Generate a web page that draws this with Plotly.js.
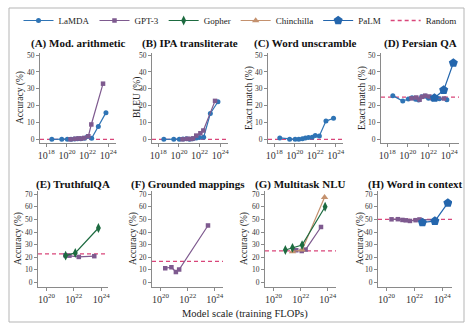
<!DOCTYPE html>
<html><head><meta charset="utf-8">
<script src="https://cdn.plot.ly/plotly-3.0.1.min.js"></script>
<style>html,body{margin:0;padding:0;background:#fff}</style>
</head><body><div id="chart" style="width:474px;height:332px"></div>
<script>
// ---------- data ----------
const panelTitles = ['(A) Mod. arithmetic','(B) IPA transliterate','(C) Word unscramble','(D) Persian QA',
                     '(E) TruthfulQA','(F) Grounded mappings','(G) Multitask NLU','(H) Word in context'];
const yTitles = ['Accuracy (%)','BLEU (%)','Exact match (%)','Exact match (%)',
                 'Accuracy (%)','Accuracy (%)','Accuracy (%)','Accuracy (%)'];
const xTitle = 'Model scale (training FLOPs)';
const randomVals = [0, 0, 0, 25, 22.6, 16.7, 25, 50];

// training FLOPs per model size
const lamdaFlops = [3.5e18, 3.2e19, 1.1e20, 2.5e20, 5.6e20, 1.1e21, 2.2e21, 5.0e21, 1.0e22, 2.5e22, 1.1e23, 6.0e23];
const gpt3Flops = [2.25e20, 6.41e20, 1.37e21, 2.38e21, 4.77e21, 1.20e22, 2.31e22, 3.14e23];
const gopherFlops = [7.51e20, 2.52e21, 1.28e22, 6.31e23];
const chinchillaFlops = [2.52e21, 1.28e22, 5.76e23];
const palmFlops = [3.74e22, 2.95e23, 2.53e24];
const truthfulGpt3Flops = [2.38e21, 4.77e21, 2.31e22, 3.14e23];
const truthfulGopherFlops = [2.52e21, 1.28e22, 6.31e23];
const groundedGpt3Flops = [2.25e20, 6.41e20, 1.37e21, 2.38e21, 3.14e23];
const mmluGpt3Flops = [4.77e21, 1.20e22, 2.31e22, 3.14e23];

// (A) Mod. arithmetic
const modArithLamda = [0, 0, 0, 0, 0.2, 0.3, 0.3, 0.6, 1.6, 0.6, 7.6, 15.8];
const modArithGpt3  = [0, 0.3, 0.5, 0.4, 0.8, 1.8, 8.8, 33];
// (B) IPA transliterate
const ipaLamda = [0, 0, 0, 0.2, 0.3, 0, 0.3, 0.8, 1.0, 1.2, 15.3, 22.3];
const ipaGpt3  = [0, 0.3, 0.2, 0.5, 2.2, 3.6, 5.2, 22.8];
// (C) Word unscramble
const unscrambleLamda = [0.8, 0, 0, 0, 0.3, 0.8, 1.0, 1.2, 2.3, 2.0, 10.8, 12.5];
// (D) Persian QA
const persianLamda = [25.9, 22.7, 23.9, 24.7, 23.7, 23.3, 25.3, 25.6, 24.3, 24.1, 24.0, 23.5];
const persianGpt3  = [24.3, 24.8, 23.5, 25.2, 25.9, 25.4, 24.5, 24.2];
const persianPalm  = [24.5, 29.2, 45.3];
// (E) TruthfulQA
const truthfulGpt3   = [21.5, 21.2, 20.2, 20.8];
const truthfulGopher = [21.2, 23.4, 43.2];
// (F) Grounded mappings
const groundedGpt3 = [11.2, 12.0, 8.2, 10.2, 45.2];
// (G) Multitask NLU
const mmluGpt3       = [25.5, 24.9, 26.0, 44.0];
const mmluGopher     = [25.7, 27.4, 29.6, 60.1];
const mmluChinchilla = [24.5, 25.8, 67.6];
// (H) Word in context
const wicGpt3 = [50.1, 50.2, 49.6, 49.3, 48.8, 49.4, 50.0, 49.4];
const wicPalm = [47.6, 48.7, 63.1];

// ---------- styles ----------
const W = 474, H = 332;
const SERIF = 'Liberation Serif';
const models = {
  LaMDA:      {color:'#2f74b5', symbol:'circle',       size:5,   rank:1},
  'GPT-3':    {color:'#7e5a8f', symbol:'square',       size:4.5, rank:2},
  Gopher:     {color:'#1d6b40', symbol:'diamond-tall', size:7,   rank:3},
  Chinchilla: {color:'#c4916e', symbol:'triangle-up',  size:6.5, rank:4},
  PaLM:       {color:'#2466ad', symbol:'pentagon',     size:9.5, rank:5}
};
const randomColor = '#d9467a';

// pixel boxes of plot areas [x0,x1,y0,y1]
const boxes = [[40,116,53,143],[152,228,53,143],[268,343,53,143],[381,459,53,143],
               [38,108,191,287],[152,223,191,287],[265,336,191,287],[378,452,191,287]];
const xRanges = [[17.4,24.75],[17.4,24.75],[17.4,24.7],[17.4,24.95],
                 [19.38,24.5],[19.38,24.6],[19.38,24.6],[19.38,24.7]];
const yRangeTop = [-2.2, 51.2], yRangeBot = [-3.7, 72.6];

const series = [
  [0,'LaMDA',lamdaFlops,modArithLamda],[0,'GPT-3',gpt3Flops,modArithGpt3],
  [1,'LaMDA',lamdaFlops,ipaLamda],[1,'GPT-3',gpt3Flops,ipaGpt3],
  [2,'LaMDA',lamdaFlops,unscrambleLamda],
  [3,'LaMDA',lamdaFlops,persianLamda],[3,'GPT-3',gpt3Flops,persianGpt3],[3,'PaLM',palmFlops,persianPalm],
  [4,'GPT-3',truthfulGpt3Flops,truthfulGpt3],[4,'Gopher',truthfulGopherFlops,truthfulGopher],
  [5,'GPT-3',groundedGpt3Flops,groundedGpt3],
  [6,'GPT-3',mmluGpt3Flops,mmluGpt3],[6,'Chinchilla',chinchillaFlops,mmluChinchilla],[6,'Gopher',gopherFlops,mmluGopher],
  [7,'GPT-3',gpt3Flops,wicGpt3],[7,'PaLM',palmFlops,wicPalm]
];

const traces = [];
const seen = {};
// random baselines first (under the data)
randomVals.forEach((rv,i) => {
  const s = i===0 ? '' : String(i+1);
  const xr = xRanges[i];
  traces.push({type:'scatter', mode:'lines', name:'Random', legendrank:6,
    x:[Math.pow(10,xr[0]), Math.pow(10,xr[1])], y:[rv,rv],
    xaxis:'x'+s, yaxis:'y'+s, showlegend:i===0, legendgroup:'Random',
    line:{color:randomColor, width:1.3, dash:'4px,3px'}, hoverinfo:'skip'});
});
series.forEach(([p,m,x,y]) => {
  const s = p===0 ? '' : String(p+1);
  const st = models[m];
  traces.push({type:'scatter', mode:'lines+markers', name:m, legendrank:st.rank,
    x:x, y:y, xaxis:'x'+s, yaxis:'y'+s, showlegend:!seen[m], legendgroup:m,
    line:{color:st.color, width:1.2},
    marker:{color:st.color, symbol:st.symbol, size:st.size, line:{width:0}}});
  seen[m] = true;
});
const layout = {
  width:W, height:H, margin:{l:0,r:0,t:0,b:0},
  paper_bgcolor:'#fff', plot_bgcolor:'#fff',
  font:{family:SERIF, color:'#222'},
  showlegend:true,
  legend:{orientation:'h', x:240/W, xanchor:'center', y:1-20.5/H, yanchor:'middle',
          font:{family:SERIF, size:9, color:'#222'}, itemwidth:30, bgcolor:'rgba(0,0,0,0)'},
  annotations:[], shapes:[
    {type:'rect', xref:'paper', yref:'paper', x0:9/W, x1:464/W, y0:1-322/H, y1:1-8/H,
     line:{color:'#b5b5b5', width:1}}
  ]
};
const axCommon = {showline:true, linecolor:'#8a8a8a', linewidth:1, ticks:'outside', ticklen:3,
  tickcolor:'#8a8a8a', tickfont:{family:SERIF, size:7.5, color:'#333'}, showgrid:false,
  zeroline:false, fixedrange:true};
const yTitleX = [20,137,249,362,18,133,244,360];
boxes.forEach((b,i) => {
  const s = i===0 ? '' : String(i+1);
  const top = i < 4;
  layout['xaxis'+s] = Object.assign({}, axCommon, {domain:[b[0]/W, b[1]/W], anchor:'y'+s,
    type:'log', range:xRanges[i], dtick:2, exponentformat:'power',
    tickfont:{family:SERIF, size:8, color:'#333'}});
  layout['yaxis'+s] = Object.assign({}, axCommon, {domain:[1-b[3]/H, 1-b[2]/H], anchor:'x'+s,
    range: top ? yRangeTop : yRangeBot, dtick:10, tick0:0});
  layout.annotations.push({xref:'paper', yref:'paper', x:(b[0]+b[1])/2/W, y:1-(top?44:184)/H,
    xanchor:'center', yanchor:'middle', showarrow:false,
    text:'<b>'+panelTitles[i]+'</b>', font:{family:SERIF, size:11, color:'#111'}});
  layout.annotations.push({xref:'paper', yref:'paper', x:yTitleX[i]/W, y:1-((b[2]+b[3])/2)/H,
    xanchor:'center', yanchor:'middle', showarrow:false, textangle:-90,
    text:yTitles[i], font:{family:SERIF, size:9.5, color:'#222'}});
});
layout.annotations.push({xref:'paper', yref:'paper', x:245/W, y:1-314/H, xanchor:'center',
  yanchor:'middle', showarrow:false, text:xTitle, font:{family:SERIF, size:10.5, color:'#222'}});

Plotly.newPlot('chart', traces, layout, {staticPlot:true, displayModeBar:false});
</script></body></html>
